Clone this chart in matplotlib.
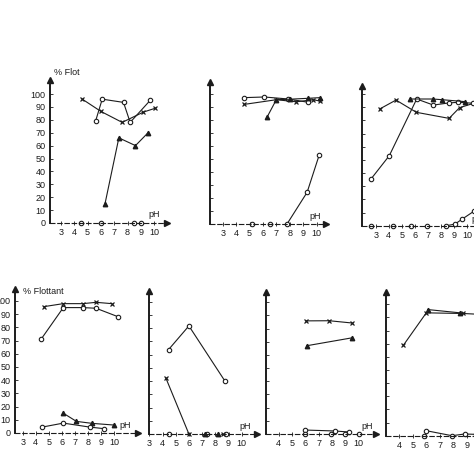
import matplotlib
matplotlib.use("Agg")
import matplotlib.pyplot as plt

# ====== DATA ======
# top row, panel 1
p1_x_ph = [4.6, 6.0, 7.6, 9.2, 10.1]
p1_x_val = [96, 86.5, 78, 86, 89]
p1_o_ph = [5.6, 6.1, 7.7, 8.2, 9.7]
p1_o_val = [79, 96, 93.5, 78, 95]
p1_t_ph = [6.3, 7.35, 8.6, 9.55]
p1_t_val = [14.5, 66, 60, 70]
p1_zero_ph = [4.5, 6.0, 8.5, 9.0]

# top row, panel 2
p2_o_ph = [4.6, 6.1, 7.85, 9.4]
p2_o_val = [97.2, 97.7, 96.2, 93.6]
p2_x_ph = [4.6, 7.0, 8.5, 9.75, 10.25]
p2_x_val = [92, 95.6, 94, 95.6, 94.6]
p2_t_ph = [6.3, 7.0, 8.0, 9.4, 10.25]
p2_t_val = [82, 95.6, 96, 96.7, 97.2]
p2_rise_ph = [7.8, 9.3, 10.2]
p2_rise_val = [0, 24.4, 53]
p2_zero_ph = [5.2, 6.5]

# top row, panel 3
p3_x_ph = [3.3, 4.55, 6.1, 8.6, 9.4, 10.5]
p3_x_val = [88.6, 95.4, 86.1, 81.5, 89.6, 93]
p3_o_ph = [2.66, 4.04, 6.13, 7.4, 8.57, 9.3, 10.4]
p3_o_val = [35.7, 53.2, 96.2, 91.6, 93.2, 93.7, 93]
p3_t_ph = [5.62, 7.35, 8.04, 9.82]
p3_t_val = [96.2, 96.2, 95.7, 94.2]
p3_low_ph = [8.4, 9.05, 9.6, 10.5]
p3_low_val = [0, 1.2, 5, 11]
p3_zero_ph = [2.64, 4.34, 5.67, 6.89]

# bottom row, panel 4
p4_x_ph = [4.6, 6.1, 7.6, 8.6, 9.8]
p4_x_val = [95.7, 98, 98, 99, 98]
p4_o_ph = [4.4, 6.1, 7.6, 8.6, 10.3]
p4_o_val = [71, 95, 95, 94.5, 88]
p4_t_ph = [6.1, 7.1, 8.3, 10.0]
p4_t_val = [15, 8.8, 7.3, 6]
p4_lo_ph = [4.5, 6.1, 8.1, 9.2]
p4_lo_val = [4.5, 7.5, 4.5, 3.3]

# bottom row, panel 5
p5_o_ph = [4.46, 6.0, 8.75]
p5_o_val = [63.8, 81.7, 39.7]
p5_x_ph = [4.26, 6.0]
p5_x_val = [42.2, 0]
p5_zero_o = [4.5, 7.4, 8.8]
p5_zero_x = [8.6]
p5_zero_t = [7.2, 8.2]

# bottom row, panel 6
p6_x_ph = [6.05, 7.8, 9.5]
p6_x_val = [85.9, 86, 84.3]
p6_t_ph = [6.1, 9.5]
p6_t_val = [67, 73]
p6_lo_ph = [6.0, 8.2, 9.3]
p6_lo_val = [3, 2.3, 1.5]
p6_zero_ph = [6.0, 7.9, 9.0, 10.0]

# bottom row, panel 7
p7_x_ph = [4.3, 6.0, 8.75, 9.7]
p7_x_val = [68.8, 93.5, 93, 92.5]
p7_t_ph = [6.1, 8.5]
p7_t_val = [96, 93.5]
p7_lo_ph = [6.0, 7.9, 8.85, 9.7]
p7_lo_val = [3.8, 0, 1.3, 1.0]
p7_zero_ph = [5.8]

y_ticks = list(range(0, 101, 10))
top_ticks = list(range(3, 11))
p6_ticks = list(range(4, 11))
p7_ticks = list(range(4, 10))

# ====== STYLE ======
INK = "#1c1c1c"
plt.rcParams["font.family"] = ["Liberation Sans", "DejaVu Sans"]
W = 474

fig = plt.figure(figsize=(4.74, 4.74), dpi=100)
fig.patch.set_facecolor("white")


def place(x_ref, ph_ref, sx, y0, sy, xlim, ylim):
    """axes rectangle (figure fraction) from pixel calibration"""
    left = x_ref + (xlim[0] - ph_ref) * sx
    right = x_ref + (xlim[1] - ph_ref) * sx
    bot = y0 - ylim[0] * sy
    top = y0 - ylim[1] * sy
    return [left / W, 1 - bot / W, (right - left) / W, (bot - top) / W]


def panel(rect, xlim, ylim, xticks, ylabels=False):
    ax = fig.add_axes(rect)
    ax.set_xlim(*xlim)
    ax.set_ylim(*ylim)
    ax.patch.set_alpha(0)
    for s in ("top", "right"):
        ax.spines[s].set_visible(False)
    ax.spines["left"].set_linewidth(1.4)
    ax.spines["left"].set_color(INK)
    ax.spines["bottom"].set_linewidth(0.8)
    ax.spines["bottom"].set_color(INK)
    ax.spines["bottom"].set_linestyle((0, (4, 2.5)))
    ax.set_xticks(xticks)
    ax.set_xticklabels([str(t) for t in xticks])
    ax.set_yticks(y_ticks)
    if ylabels:
        ax.set_yticklabels([str(t) for t in y_ticks])
    else:
        ax.set_yticklabels([])
    ax.tick_params(axis="x", direction="inout", length=3, width=0.6,
                   pad=2, labelsize=6.5, colors=INK)
    ax.tick_params(axis="y", direction="in", length=2, width=0.6,
                   pad=3, labelsize=6.5, colors=INK)
    # arrow heads
    ax.plot([xlim[0]], [ylim[1]], marker="^", ms=4, color=INK, clip_on=False)
    ax.plot([xlim[1]], [0], marker=">", ms=4, color=INK, clip_on=False)
    return ax


def series(ax, ph, val, m):
    kw = dict(color=INK, lw=0.8, clip_on=False)
    if m == "o":
        ax.plot(ph, val, marker="o", ms=3.2, mfc="white", mec=INK, mew=0.8, **kw)
    elif m == "x":
        ax.plot(ph, val, marker="x", ms=3.5, mew=0.9, **kw)
    else:
        ax.plot(ph, val, marker="^", ms=3.2, mfc=INK, mec=INK, **kw)


def zeros(ax, ph, m="o"):
    if m == "o":
        ax.plot(ph, [0] * len(ph), ls="none", marker="o", ms=3.2, mfc="white",
                mec=INK, mew=0.8, clip_on=False)
    elif m == "x":
        ax.plot(ph, [0] * len(ph), ls="none", marker="x", ms=3.5, mew=0.9,
                color=INK, clip_on=False)
    else:
        ax.plot(ph, [0] * len(ph), ls="none", marker="^", ms=3.2, color=INK,
                clip_on=False)


# ---------- panel 1 ----------
xl, yl = (2.17, 10.97), (0, 110.9)
ax1 = panel(place(61, 3, 13.3, 223, 1.29, xl, yl), xl, yl, top_ticks, ylabels=True)
series(ax1, p1_x_ph, p1_x_val, "x")
series(ax1, p1_o_ph, p1_o_val, "o")
series(ax1, p1_t_ph, p1_t_val, "^")
zeros(ax1, p1_zero_ph)
ax1.text(2.5, 113, "% Flot", fontsize=6.5, color=INK, va="bottom")
ax1.text(10.0, 3, "pH", fontsize=6.5, color=INK, ha="center", va="bottom")

# ---------- panel 2 ----------
xl, yl = (2.05, 10.7), (0, 109)
ax2 = panel(place(222.7, 3, 13.4, 224, 1.3, xl, yl), xl, yl, top_ticks)
series(ax2, p2_o_ph, p2_o_val, "o")
series(ax2, p2_x_ph, p2_x_val, "x")
series(ax2, p2_t_ph, p2_t_val, "^")
series(ax2, p2_rise_ph, p2_rise_val, "o")
zeros(ax2, p2_zero_ph)
ax2.text(9.9, 2, "pH", fontsize=6.5, color=INK, ha="center", va="bottom")

# ---------- panel 3 ----------
xl, yl = (1.95, 11.5), (0, 106)
ax3 = panel(place(375.7, 3, 13.1, 225.7, 1.317, xl, yl), xl, yl, top_ticks)
series(ax3, p3_x_ph, p3_x_val, "x")
series(ax3, p3_o_ph, p3_o_val, "o")
series(ax3, p3_t_ph, p3_t_val, "^")
series(ax3, p3_low_ph, p3_low_val, "o")
zeros(ax3, p3_zero_ph)
ax3.text(10.3, 1, "pH", fontsize=6.5, color=INK, ha="left", va="bottom")

# ---------- panel 4 ----------
xl, yl = (2.41, 11.8), (0, 109)
ax4 = panel(place(22.7, 3, 13.1, 433, 1.32, xl, yl), xl, yl, top_ticks, ylabels=True)
series(ax4, p4_x_ph, p4_x_val, "x")
series(ax4, p4_o_ph, p4_o_val, "o")
series(ax4, p4_t_ph, p4_t_val, "^")
series(ax4, p4_lo_ph, p4_lo_val, "o")
ax4.text(3.0, 107, "% Flottant", fontsize=6.5, color=INK, va="center")
ax4.text(10.8, 6, "pH", fontsize=6.5, color=INK, ha="center", va="center")

# ---------- panel 5 ----------
xl, yl = (2.98, 11.16), (0, 108)
ax5 = panel(place(149.3, 3, 13.2, 434, 1.323, xl, yl), xl, yl, top_ticks)
series(ax5, p5_o_ph, p5_o_val, "o")
series(ax5, p5_x_ph, p5_x_val, "x")
zeros(ax5, p5_zero_o)
zeros(ax5, p5_zero_x, "x")
zeros(ax5, p5_zero_t, "^")
ax5.text(10.25, 6, "pH", fontsize=6.5, color=INK, ha="center", va="center")

# ---------- panel 6 ----------
xl, yl = (3.02, 11.3), (0, 108)
ax6 = panel(place(278.7, 4, 13.3, 434, 1.317, xl, yl), xl, yl, p6_ticks)
series(ax6, p6_x_ph, p6_x_val, "x")
series(ax6, p6_t_ph, p6_t_val, "^")
series(ax6, p6_lo_ph, p6_lo_val, "o")
zeros(ax6, p6_zero_ph)
ax6.text(10.65, 6, "pH", fontsize=6.5, color=INK, ha="center", va="center")

# ---------- panel 7 ----------
xl, yl = (3.0, 11.0), (0, 109.6)
ax7 = panel(place(399.3, 4, 13.5, 435.7, 1.314, xl, yl), xl, yl, p7_ticks)
series(ax7, p7_x_ph, p7_x_val, "x")
series(ax7, p7_t_ph, p7_t_val, "^")
series(ax7, p7_lo_ph, p7_lo_val, "o")
zeros(ax7, p7_zero_ph)

fig.savefig("out.png", dpi=100, facecolor="white")
